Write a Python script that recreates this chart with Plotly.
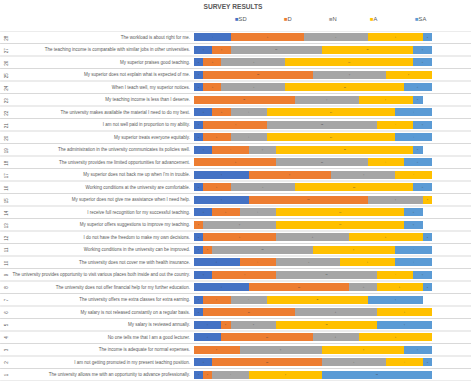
import plotly.graph_objects as go

# Statements numbered 1..28 (bottom to top)
statements = [
    "The university allows me with an opportunity to advance professionally.",
    "I am not getting promoted in my present teaching position.",
    "The income is adequate for normal expenses.",
    "No one tells me that I am a good lecturer.",
    "My salary is reviewed annually.",
    "My salary is not released constantly on a regular basis.",
    "The university offers me extra classes for extra earning.",
    "The university does not offer financial help for my further education.",
    "The university provides opportunity to visit various places both inside and out the country.",
    "The university does not cover me with health insurance.",
    "Working conditions in the university can be improved.",
    "I do not have the freedom to make my own decisions.",
    "My superior offers suggestions to improve my teaching.",
    "I receive full recognition for my successful teaching.",
    "My superior does not give me assistance when I need help.",
    "Working conditions at the university are comfortable.",
    "My superior does not back me up when I'm in trouble.",
    "The university provides me limited opportunities for advancement.",
    "The administration in the university communicates its policies well.",
    "My superior treats everyone equitably.",
    "I am not well paid in proportion to my ability.",
    "The university makes available the material I need to do my best.",
    "My teaching income is less than I deserve.",
    "When I teach well, my superior notices.",
    "My superior does not explain what is expected of me.",
    "My superior praises good teaching.",
    "The teaching income is comparable with similar jobs in other universities.",
    "The workload is about right for me.",
]
item_numbers = list(range(1, 29))

SD = [1, 2, 0, 3, 3, 1, 1, 6, 2, 5, 1, 1, 0, 2, 6, 1, 6, 0, 2, 1, 1, 2, 0, 1, 1, 1, 2, 4]
D  = [1, 12, 5, 10, 1, 10, 3, 11, 7, 4, 1, 8, 1, 3, 13, 3, 9, 9, 4, 3, 7, 2, 11, 2, 12, 2, 2, 8]
N  = [4, 7, 9, 5, 5, 9, 4, 3, 11, 7, 11, 8, 8, 4, 6, 7, 7, 10, 3, 4, 12, 4, 7, 7, 8, 7, 10, 7]
A  = [8, 4, 9, 8, 11, 6, 11, 5, 4, 6, 9, 8, 14, 14, 1, 13, 4, 4, 15, 14, 4, 14, 6, 13, 5, 14, 10, 6]
SA = [12, 1, 3, 0, 6, 0, 6, 1, 2, 4, 4, 1, 2, 2, 0, 2, 0, 3, 1, 4, 2, 4, 1, 3, 0, 2, 2, 1]

series_names = ["SD", "D", "N", "A", "SA"]
series_values = [SD, D, N, A, SA]
series_colors = ["#4472C4", "#ED7D31", "#A5A5A5", "#FFC000", "#5B9BD5"]
legend_x = [0.1419, 0.3166, 0.4812, 0.6292, 0.7895]  # legend entry positions (layout)

FONT = "Liberation Sans"

fig = go.Figure()
for name, vals, color in zip(series_names, series_values, series_colors):
    fig.add_trace(go.Bar(
        y=item_numbers, x=vals, name=name, orientation="h",
        marker=dict(color=color, line=dict(width=0)),
        text=[str(v) if v else "" for v in vals],
        textposition="inside", insidetextanchor="middle",
        textfont=dict(size=4.6, color="#404040", family=FONT),
        hoverinfo="x+name", showlegend=False,
    ))

# row separator lines spanning labels and plot
shapes = []
for k in range(0, 29):
    shapes.append(dict(type="line", xref="paper", yref="y",
                       x0=-0.70, x1=1.0, y0=k + 0.5, y1=k + 0.5,
                       line=dict(color="#D9D9D9", width=1), layer="below"))

annotations = []
for n in item_numbers:
    annotations.append(dict(x=-0.677, y=n, xref="paper", yref="y", text=str(n),
                            showarrow=False, textangle=-90, xanchor="center",
                            font=dict(size=4.5, color="#595959", family=FONT)))

# legend entries (square swatch + series name)
for name, color, lx in zip(series_names, series_colors, legend_x):
    annotations.append(dict(
        x=lx, y=1.0343, xref="paper", yref="paper", xanchor="left", yanchor="middle",
        showarrow=False,
        text=f"<span style='color:{color}'>■</span>{name}",
        font=dict(size=5.8, color="#595959", family=FONT)))

fig.update_layout(
    width=474, height=386,
    barmode="stack", bargap=0.36,
    paper_bgcolor="white", plot_bgcolor="white",
    margin=dict(l=194, r=3, t=31, b=5, autoexpand=False),
    title=dict(text="<b>SURVEY RESULTS</b>", x=0.4916, xanchor="center",
               xref="container", yref="container",
               y=0.9819, yanchor="middle",
               font=dict(size=6.6, color="#595959", family=FONT)),
    showlegend=False,
    shapes=shapes, annotations=annotations,
    uniformtext=dict(minsize=1, mode="show"),
)
fig.update_xaxes(range=[0, 30.3], visible=False, showgrid=False, zeroline=False)
fig.update_yaxes(range=[0.5, 28.5], tickvals=item_numbers, ticktext=statements,
                 showgrid=False, zeroline=False, ticks="", ticklabelstandoff=3,
                 automargin=False,
                 tickfont=dict(size=4.5, color="#595959", family=FONT))

fig.write_html("out.html", config={"displayModeBar": False},
               post_script="document.body.style.margin='0';")
